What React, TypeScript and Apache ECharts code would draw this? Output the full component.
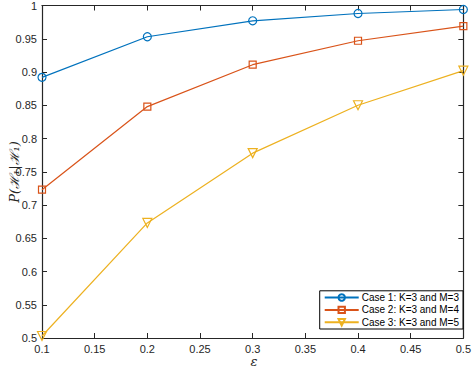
import React, { useEffect, useRef } from "react";
import * as echarts from "echarts";

const epsilon = [0.1, 0.2, 0.3, 0.4, 0.5];
const case1 = [0.892, 0.953, 0.977, 0.988, 0.994];
const case2 = [0.723, 0.848, 0.911, 0.947, 0.969];
const case3 = [0.503, 0.673, 0.778, 0.85, 0.902];
const seriesNames = ["Case 1: K=3 and M=3", "Case 2: K=3 and M=4", "Case 3: K=3 and M=5"];
const colors = ["#0072BD", "#D95319", "#EDB120"];

export default function App() {
  const ref = useRef<HTMLDivElement>(null);
  useEffect(() => {
    if (!ref.current) return;
    const chart = echarts.init(ref.current, null, { renderer: "svg" });
    const axisColor = "#262626";
    const font = "Helvetica, Arial, 'Liberation Sans', sans-serif";
    const toPairs = (v: number[]) => epsilon.map((x, i) => [x, v[i]]);
    const mk = (i: number, data: number[], symbol: string, size: number, rotate = 0) => ({
      name: seriesNames[i],
      type: "line",
      data: toPairs(data),
      symbol,
      symbolSize: size,
      symbolRotate: rotate,
      showAllSymbol: true,
      lineStyle: { color: colors[i], width: 1.2 },
      itemStyle: { color: "none", borderColor: colors[i], borderWidth: 1.2 },
      clip: false,
      z: 3 + i,
    });
    const xAxisBase = {
      type: "value",
      min: 0.1,
      max: 0.5,
      interval: 0.05,
      splitLine: { show: false },
      axisLine: { show: true, lineStyle: { color: axisColor, width: 1.2 } },
      axisTick: { show: true, inside: true, length: 5, lineStyle: { color: axisColor } },
    };
    const yAxisBase = {
      type: "value",
      min: 0.5,
      max: 1,
      interval: 0.05,
      splitLine: { show: false },
      axisLine: { show: true, lineStyle: { color: axisColor, width: 1.2 } },
      axisTick: { show: true, inside: true, length: 5, lineStyle: { color: axisColor } },
    };
    chart.setOption({
      animation: false,
      backgroundColor: "#ffffff",
      grid: { left: 42, right: 7, top: 5, bottom: 29, containLabel: false },
      xAxis: [
        {
          ...xAxisBase,
          position: "bottom",
          axisLabel: {
            color: axisColor,
            fontSize: 11,
            fontFamily: font,
            margin: 5,
            formatter: (v: number) => String(parseFloat(v.toFixed(2))),
          },
        },
        { ...xAxisBase, position: "top", axisLabel: { show: false } },
      ],
      yAxis: [
        {
          ...yAxisBase,
          position: "left",
          axisLabel: {
            color: axisColor,
            fontSize: 11,
            fontFamily: font,
            margin: 5,
            formatter: (v: number) => String(parseFloat(v.toFixed(2))),
          },
        },
        { ...yAxisBase, position: "right", axisLabel: { show: false } },
      ],
      legend: {
        right: 11,
        bottom: 38,
        orient: "vertical",
        itemWidth: 34,
        itemHeight: 8,
        itemGap: 1,
        padding: [1, 4, 1, 4],
        borderColor: "#000",
        borderWidth: 1,
        backgroundColor: "#fff",
        textStyle: { fontSize: 10, lineHeight: 10, color: "#000", fontFamily: font, padding: [0, 0, 0, -2] },
        data: seriesNames,
      },
      series: [
        mk(0, case1, "circle", 8),
        mk(1, case2, "rect", 7),
        mk(2, case3, "triangle", 9, 180),
      ],
      graphic: [
        {
          type: "text",
          x: 14,
          y: 172,
          rotation: Math.PI / 2,
          style: {
            text: "P(ℋ₁|ℋ₁)",
            font: "italic 13px 'DejaVu Serif', serif",
            fill: axisColor,
            textAlign: "center",
            textVerticalAlign: "middle",
          },
        },
        {
          type: "text",
          x: 254,
          y: 361,
          style: {
            text: "ε",
            font: "italic 13px 'DejaVu Serif', serif",
            fill: axisColor,
            textAlign: "center",
            textVerticalAlign: "middle",
          },
        },
      ],
    });
    return () => chart.dispose();
  }, []);
  return <div ref={ref} style={{ width: 474, height: 367, position: "absolute", left: 0, top: 0 }} />;
}
